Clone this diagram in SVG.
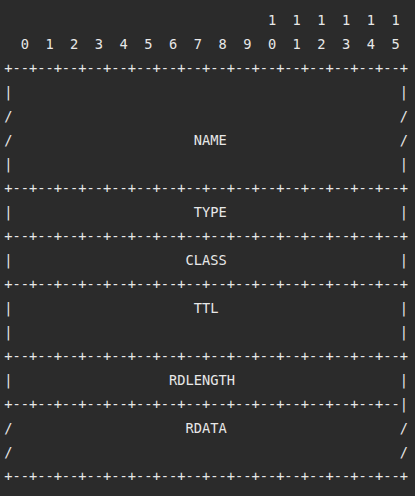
<svg xmlns="http://www.w3.org/2000/svg" width="415" height="496" viewBox="0 0 415 496">
<style>
.t{font-family:"DejaVu Sans Mono","Liberation Mono",monospace;font-size:13.7px;fill:#e8e8e8;white-space:pre}
</style>
<rect width="415" height="496" fill="#2b2b2b"/>
<g transform="translate(0,-1)">
<g id="header" class="t">
<text x="4.2" y="26" xml:space="preserve">                                1  1  1  1  1  1</text>
<text x="4.2" y="50" xml:space="preserve">  0  1  2  3  4  5  6  7  8  9  0  1  2  3  4  5</text>
<text x="4.2" y="74" xml:space="preserve">+--+--+--+--+--+--+--+--+--+--+--+--+--+--+--+--+</text>
</g>
<g id="name" class="t">
<text x="4.2" y="98" xml:space="preserve">|                                               |</text>
<text x="4.2" y="122" xml:space="preserve">/                                               /</text>
<text x="4.2" y="146" xml:space="preserve">/                      NAME                     /</text>
<text x="4.2" y="170" xml:space="preserve">|                                               |</text>
<text x="4.2" y="194" xml:space="preserve">+--+--+--+--+--+--+--+--+--+--+--+--+--+--+--+--+</text>
</g>
<g id="type" class="t">
<text x="4.2" y="218" xml:space="preserve">|                      TYPE                     |</text>
<text x="4.2" y="242" xml:space="preserve">+--+--+--+--+--+--+--+--+--+--+--+--+--+--+--+--+</text>
</g>
<g id="class" class="t">
<text x="4.2" y="266" xml:space="preserve">|                     CLASS                     |</text>
<text x="4.2" y="290" xml:space="preserve">+--+--+--+--+--+--+--+--+--+--+--+--+--+--+--+--+</text>
</g>
<g id="ttl" class="t">
<text x="4.2" y="314" xml:space="preserve">|                      TTL                      |</text>
<text x="4.2" y="338" xml:space="preserve">|                                               |</text>
<text x="4.2" y="362" xml:space="preserve">+--+--+--+--+--+--+--+--+--+--+--+--+--+--+--+--+</text>
</g>
<g id="rdlength" class="t">
<text x="4.2" y="386" xml:space="preserve">|                   RDLENGTH                    |</text>
<text x="4.2" y="410" xml:space="preserve">+--+--+--+--+--+--+--+--+--+--+--+--+--+--+--+--|</text>
</g>
<g id="rdata" class="t">
<text x="4.2" y="434" xml:space="preserve">/                     RDATA                     /</text>
<text x="4.2" y="458" xml:space="preserve">/                                               /</text>
<text x="4.2" y="482" xml:space="preserve">+--+--+--+--+--+--+--+--+--+--+--+--+--+--+--+--+</text>
</g>
</g>
<g id="connectors"/>
</svg>
